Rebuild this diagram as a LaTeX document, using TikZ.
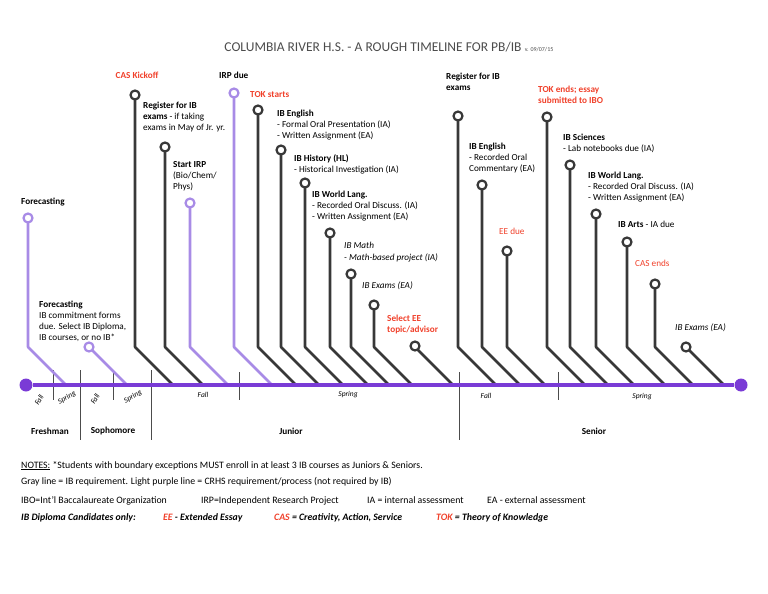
\documentclass[tikz,border=0pt]{standalone}
\usepackage{fontspec}
\setmainfont{Carlito}
\definecolor{pin}{HTML}{383838}
\definecolor{lpur}{HTML}{A88BE6}
\definecolor{tpur}{HTML}{7A3BD6}
\definecolor{red}{HTML}{F0402A}
\newcommand{\fs}{\fontsize{9.2}{11}\selectfont}
\newcommand{\fn}{\fontsize{9.8}{11}\selectfont}
\begin{document}
\begin{tikzpicture}[x=1pt,y=-1pt,
  pinc/.style={circle,draw=#1,line width=2.2pt,minimum size=9pt,inner sep=0pt,fill=white},
  pinl/.style={draw=#1,line width=2.6pt},
  lab/.style={anchor=north west,font=\fs,inner sep=0pt,align=left},
  tick/.style={draw=black!70,line width=0.6pt},
  sem/.style={font=\fontsize{7.5}{8}\selectfont\itshape,inner sep=0pt},
  yr/.style={font=\fs\bfseries,inner sep=0pt},
  note/.style={anchor=base west,font=\fn,inner sep=0pt}]
\useasboundingbox (0,0) rectangle (768,594);
% ticks
\foreach \x/\a/\b in {53/370/400,80/370/440,113/370/400,151/370/440,239/372/400,459/372/440,558/372/400}
  \draw[tick] (\x,\a) -- (\x,\b);
% pins
\foreach \n/\cx/\cy/\c in {a/28/218/lpur,b/89/347/lpur,c/135/95/pin,d/165/147/pin,e/190/203/lpur,f/234/93/lpur,g/258/110/pin,h/281/150/pin,i/305/183/pin,j/330/233/pin,k/351/274/pin,l/374/305/pin,m/415/346/pin,n/458/116/pin,o/482/185/pin,p/507/251/pin,q/547/117/pin,r/570/165/pin,s/596/214/pin,t/627/242/pin,u/655/284/pin,v/686/347/pin}{
  \coordinate (\n b) at (\cx,347);
  \coordinate (\n e) at ({\cx+38},385);
  \draw[pinl=\c,line join=round] (\cx,\cy) -- (\n b) -- (\n e);
  \node[pinc=\c] (\n) at (\cx,\cy) {};
}
% timeline
\node[circle,fill=tpur,minimum size=13pt,inner sep=0pt] (L) at (26,385) {};
\node[circle,fill=tpur,minimum size=13pt,inner sep=0pt] (R) at (741,385) {};
\draw[tpur,line width=4.5pt] (L) -- (R);
% semesters
\node[sem,rotate=60] at (39,400) {Fall};
\node[sem,rotate=30] at (67,398) {Spring};
\node[sem,rotate=60] at (95,399) {Fall};
\node[sem,rotate=30] at (133,397) {Spring};
\node[sem] at (203,395) {Fall};
\node[sem] at (348,395) {Spring};
\node[sem] at (486,396) {Fall};
\node[sem] at (642,397) {Spring};
\node[yr] at (50,431) {Freshman};
\node[yr] at (113,431) {Sophomore};
\node[yr] at (291,431) {Junior};
\node[yr] at (594,431) {Senior};
% title
\node[font=\fontsize{13.5}{15}\selectfont,text=black!70,inner sep=0pt] (title) at (373,47) {COLUMBIA RIVER H.S. - A ROUGH TIMELINE FOR PB/IB};
\node[anchor=base west,font=\fontsize{6}{7}\selectfont,text=black!70,inner sep=0pt] at ([xshift=3pt]title.base east) {v. 09/07/15};
% labels
\node[lab,anchor=north,text=red,font=\fs\bfseries] at (137,72) {CAS Kickoff};
\node[lab,font=\fs\bfseries] at (219,72) {IRP due};
\node[lab,text=red,font=\fs\bfseries] at (250,91) {TOK starts};
\node[lab] at (143,102) {\textbf{Register for IB}\\\textbf{exams} - if taking\\exams in May of Jr. yr.};
\node[lab] at (173,161) {\textbf{Start IRP}\\(Bio/Chem/\\Phys)};
\node[lab] at (277,110) {\textbf{IB English}\\- Formal Oral Presentation (IA)\\- Written Assignment (EA)};
\node[lab] at (294,154) {\textbf{IB History (HL)}\\- Historical Investigation (IA)};
\node[lab] at (312,191) {\textbf{IB World Lang.}\\- Recorded Oral Discuss. (IA)\\- Written Assignment (EA)};
\node[lab,font=\fontsize{9.2}{12}\selectfont\itshape] at (344,242) {IB Math\\- Math-based project (IA)};
\node[lab,font=\fs\itshape] at (362,282) {IB Exams (EA)};
\node[lab,text=red,font=\fs\bfseries] at (387,315) {Select EE\\topic/advisor};
\node[lab,font=\fs\bfseries] at (446,73) {Register for IB\\exams};
\node[lab] at (469,143) {\textbf{IB English}\\- Recorded Oral\\Commentary (EA)};
\node[lab,text=red] at (499,228) {EE due};
\node[lab,text=red,font=\fs\bfseries] at (538,86) {TOK ends; essay\\submitted to IBO};
\node[lab] at (563,134) {\textbf{IB Sciences}\\- Lab notebooks due (IA)};
\node[lab] at (588,172) {\textbf{IB World Lang.}\\- Recorded Oral Discuss. (IA)\\- Written Assignment (EA)};
\node[lab] at (618,221) {\textbf{IB Arts} - IA due};
\node[lab,text=red] at (635,260) {CAS ends};
\node[lab,font=\fs\itshape] at (675,324) {IB Exams (EA)};
\node[lab,font=\fs\bfseries] at (21,198) {Forecasting};
\node[lab] at (39,301) {\textbf{Forecasting}\\IB commitment forms\\due. Select IB Diploma,\\IB courses, or no IB*};
% notes
\node[note] at (21,468) {\underline{NOTES:} *Students with boundary exceptions MUST enroll in at least 3 IB courses as Juniors \& Seniors.};
\node[note] at (21,484) {Gray line = IB requirement. Light purple line = CRHS requirement/process (not required by IB)};
\node[note] at (21,503) {IBO=Int'l Baccalaureate Organization};
\node[note] at (201,503) {IRP=Independent Research Project};
\node[note] at (367,503) {IA = internal assessment};
\node[note] at (487,503) {EA - external assessment};
\node[note,font=\fn\bfseries\itshape] at (21,520) {IB Diploma Candidates only:};
\node[note,font=\fn\bfseries\itshape] at (163,520) {\textcolor{red}{EE} - Extended Essay};
\node[note,font=\fn\bfseries\itshape] at (274,520) {\textcolor{red}{CAS} = Creativity, Action, Service};
\node[note,font=\fn\bfseries\itshape] at (436,520) {\textcolor{red}{TOK} = Theory of Knowledge};
\end{tikzpicture}
\end{document}
